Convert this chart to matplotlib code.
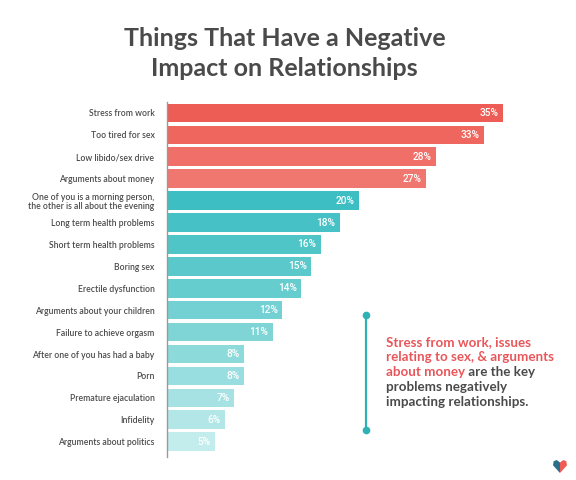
import matplotlib.pyplot as plt
import numpy as np
from matplotlib.path import Path
from matplotlib.patches import PathPatch

categories = [
    "Stress from work",
    "Too tired for sex",
    "Low libido/sex drive",
    "Arguments about money",
    "One of you is a morning person,\nthe other is all about the evening",
    "Long term health problems",
    "Short term health problems",
    "Boring sex",
    "Erectile dysfunction",
    "Arguments about your children",
    "Failure to achieve orgasm",
    "After one of you has had a baby",
    "Porn",
    "Premature ejaculation",
    "Infidelity",
    "Arguments about politics",
]
values = [35, 33, 28, 27, 20, 18, 16, 15, 14, 12, 11, 8, 8, 7, 6, 5]
bar_colors = [
    "#ee5d55", "#ef665f", "#f06f68", "#f07770",
    "#3dbec3", "#46c1c5", "#50c5c8", "#5bc9cb", "#66cdcf", "#74d1d3",
    "#7fd5d6", "#8ddadb", "#98dddf", "#a6e2e3", "#b3e6e7", "#c3ecec",
]

DARK = "#4a4a4a"
RED = "#e9565a"
TEAL = "#2fb2b6"

fig = plt.figure(figsize=(5.76, 4.8), dpi=100)
ax = fig.add_axes([167 / 576, 1 - 457 / 480, 336 / 576, 355 / 480])

y = np.arange(len(values))
ax.barh(y, values, height=0.85, color=bar_colors, edgecolor="none")
ax.set_xlim(0, 35)
ax.set_ylim(15.7, -0.5)

for yi, v in zip(y, values):
    ax.text(v - 0.45, yi, f"{v}%", ha="right", va="center", color="white",
            fontsize=7.3, family="Roboto", fontweight="medium")

ax.set_yticks(y)
ax.set_yticklabels(categories, fontsize=6.2, family="Lato", color=DARK,
                   fontweight="semibold", linespacing=1.0)
ax.tick_params(axis="y", length=0, pad=9)
ax.set_xticks([])
for s in ["top", "right", "bottom"]:
    ax.spines[s].set_visible(False)
ax.spines["left"].set_color("#9a9a9a")
ax.spines["left"].set_linewidth(1.0)

# title
fig.text(0.494, 1 - 38 / 480, "Things That Have a Negative", ha="center",
         va="center", fontsize=18, family="Lato", fontweight="bold", color=DARK)
fig.text(0.494, 1 - 68 / 480, "Impact on Relationships", ha="center",
         va="center", fontsize=18, family="Lato", fontweight="bold", color=DARK)

# callout line with dots
fig.add_artist(plt.Line2D([366 / 576, 366 / 576], [1 - 315 / 480, 1 - 430 / 480],
                          color=TEAL, lw=1.6, transform=fig.transFigure))
fig.add_artist(plt.Line2D([366 / 576, 366 / 576], [1 - 315 / 480, 1 - 430 / 480],
                          color=TEAL, lw=0, marker="o", markersize=4.5,
                          transform=fig.transFigure))

# callout text
tx = 386 / 576
lines_y = [342, 357, 372, 387, 402]
kw = dict(fontsize=9.6, family="Lato", fontweight="bold", va="center", ha="left")
fig.text(tx, 1 - lines_y[0] / 480, "Stress from work, issues", color=RED, **kw)
fig.text(tx, 1 - lines_y[1] / 480, "relating to sex, & arguments", color=RED, **kw)
t3 = fig.text(tx, 1 - lines_y[2] / 480, "about money", color=RED, **kw)
fig.text(tx, 1 - lines_y[3] / 480, "problems negatively", color=DARK, **kw)
fig.text(tx, 1 - lines_y[4] / 480, "impacting relationships.", color=DARK, **kw)
ax.annotate(" are the key", xy=(1, 0), xycoords=t3, ha="left", va="bottom",
            fontsize=9.6, family="Lato", fontweight="bold", color=DARK,
            annotation_clip=False)

# small heart logo
cx, cy, r = 560 / 576, 1 - 466 / 480, 7 / 576
aspect = 576 / 480
left = [(cx, cy - r * 1.0 * aspect), (cx - r, cy + r * 0.1 * aspect),
        (cx - r * 0.9, cy + r * 0.7 * aspect), (cx - r * 0.45, cy + r * 0.85 * aspect),
        (cx, cy + r * 0.5 * aspect)]
right = [(cx, cy - r * 1.0 * aspect), (cx + r, cy + r * 0.1 * aspect),
         (cx + r * 0.9, cy + r * 0.7 * aspect), (cx + r * 0.45, cy + r * 0.85 * aspect),
         (cx, cy + r * 0.5 * aspect)]
for pts, col in [(left, "#2b6f8a"), (right, "#ee5d55")]:
    path = Path(pts + [pts[0]], [Path.MOVETO] + [Path.LINETO] * (len(pts) - 1) + [Path.CLOSEPOLY])
    fig.add_artist(PathPatch(path, facecolor=col, edgecolor="none",
                             transform=fig.transFigure))

fig.savefig("out.png", dpi=100)
